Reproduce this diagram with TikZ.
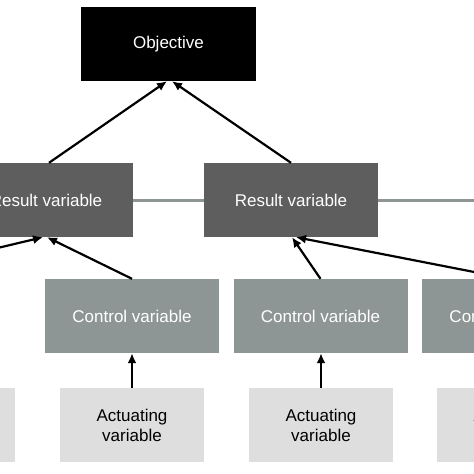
\documentclass[tikz,border=0pt]{standalone}
\usepackage{fontspec}
\setmainfont{Liberation Sans}
\usetikzlibrary{arrows.meta}
\definecolor{objfill}{HTML}{000000}
\definecolor{resfill}{HTML}{5E5E5E}
\definecolor{ctlfill}{HTML}{8E9695}
\definecolor{actfill}{HTML}{DEDEDE}
\definecolor{linkgray}{HTML}{8E9695}
\tikzset{
  box/.style={rectangle, inner sep=0pt, minimum width=174pt, minimum height=74pt,
    font=\fontsize{17}{20}\selectfont, align=center},
  objbox/.style={box, minimum width=175pt, fill=objfill, text=white},
  resbox/.style={box, fill=resfill, text=white},
  ctlbox/.style={box, fill=ctlfill, text=white},
  actbox/.style={box, minimum width=144pt, fill=actfill, text=black},
  arr/.style={line width=2.2pt, -{Latex[length=10pt,width=9pt]}},
  link/.style={line width=3pt, draw=linkgray}
}
\begin{document}
\begin{tikzpicture}[x=1pt,y=-1pt]
\clip (0,0) rectangle (474,474);
\fill[white] (0,0) rectangle (474,474);
\node[objbox] (obj) at (168.5,44) {Objective};
\node[resbox] (resL) at (46,200) {Result variable};
\node[resbox] (resR) at (291,200) {Result variable};
\node[ctlbox] (ctlL) at (132,316) {Control variable};
\node[ctlbox] (ctlM) at (320.5,316) {Control variable};
\node[ctlbox] (ctlR) at (509,316) {Control variable};
\node[actbox] (act0) at (-57,425) {Actuating\\variable};
\node[actbox] (actL) at (132,425) {Actuating\\variable};
\node[actbox] (actM) at (321,425) {Actuating\\variable};
\node[actbox] (actR) at (509,425) {Actuating\\variable};
\coordinate (farL) at (-133,279);
\coordinate (farR) at (560,200);
% horizontal links
\draw[link] (resL.east) -- (resR.west);
\draw[link] (resR.east) -- (farR);
% arrows
\draw[arr] ([xshift=3pt]resL.north) -- ([xshift=-1.5pt]obj.south);
\draw[arr] (resR.north) -- ([xshift=3.5pt]obj.south);
\draw[arr] (ctlL.north) -- ([xshift=1pt]resL.south);
\draw[arr] (farL) -- ([xshift=-3pt]resL.south);
\draw[arr] (ctlM.north) -- ([xshift=1pt]resR.south);
\draw[arr] (ctlR.north) -- ([xshift=5pt]resR.south);
\draw[arr] (actL.north) -- (ctlL.south);
\draw[arr] (actM.north) -- ([xshift=0.5pt]ctlM.south);
\draw[arr] (actR.north) -- (ctlR.south);
\end{tikzpicture}
\end{document}
